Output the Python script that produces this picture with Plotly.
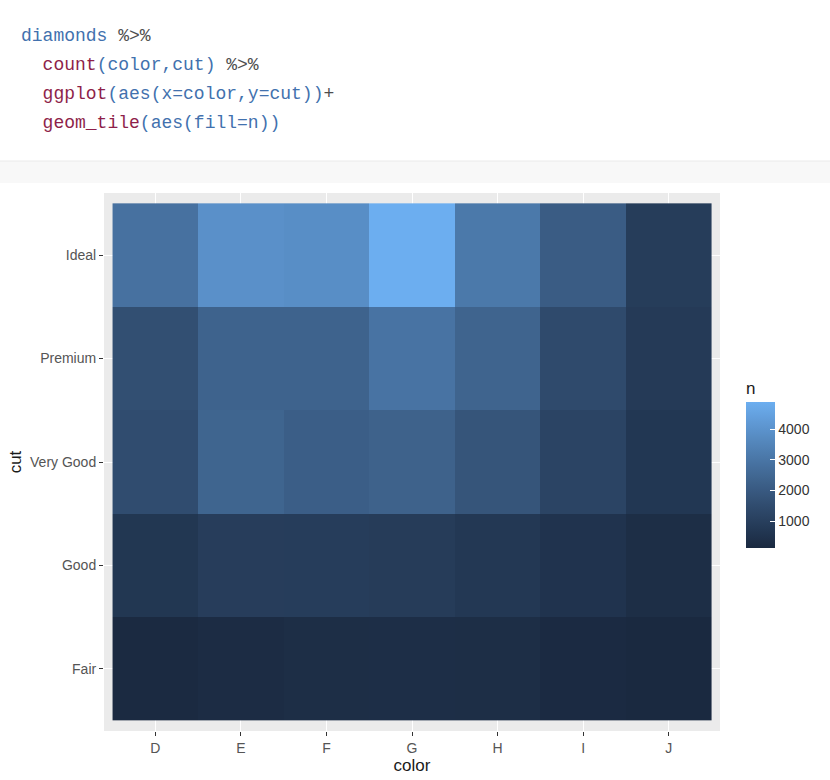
import plotly.graph_objects as go

# ---- data ----
colors = ["D", "E", "F", "G", "H", "I", "J"]
cuts = ["Fair", "Good", "Very Good", "Premium", "Ideal"]
n_fair = [163, 224, 312, 314, 303, 175, 119]
n_good = [662, 933, 909, 871, 702, 522, 307]
n_very_good = [1513, 2400, 2164, 2299, 1824, 1204, 678]
n_premium = [1603, 2337, 2331, 2924, 2360, 1428, 808]
n_ideal = [2834, 3903, 3826, 4884, 3115, 2093, 896]
cbar_ticks = [1000, 2000, 3000, 4000]

z = [n_fair, n_good, n_very_good, n_premium, n_ideal]

# ---- ggplot-like Lab gradient (colours as they appear in the screenshot) ----
def hex2rgb(h):
    h = h.lstrip("#")
    return [int(h[i:i + 2], 16) / 255 for i in (0, 2, 4)]

def srgb2lin(c):
    return c / 12.92 if c <= 0.04045 else ((c + 0.055) / 1.055) ** 2.4

def lin2srgb(c):
    c = max(0.0, min(1.0, c))
    return 12.92 * c if c <= 0.0031308 else 1.055 * c ** (1 / 2.4) - 0.055

WX, WY, WZ = 0.95047, 1.0, 1.08883

def f(t):
    return t ** (1 / 3) if t > 216 / 24389 else (24389 / 27 * t + 16) / 116

def finv(t):
    return t ** 3 if t ** 3 > 216 / 24389 else (116 * t - 16) / (24389 / 27)

def rgb2lab(rgb):
    r, g, b = [srgb2lin(c) for c in rgb]
    X = 0.4124 * r + 0.3576 * g + 0.1805 * b
    Y = 0.2126 * r + 0.7152 * g + 0.0722 * b
    Z = 0.0193 * r + 0.1192 * g + 0.9505 * b
    fx, fy, fz = f(X / WX), f(Y / WY), f(Z / WZ)
    return [116 * fy - 16, 500 * (fx - fy), 200 * (fy - fz)]

def lab2rgb(lab):
    L, a, b = lab
    fy = (L + 16) / 116
    fx = fy + a / 500
    fz = fy - b / 200
    X, Y, Z = WX * finv(fx), WY * finv(fy), WZ * finv(fz)
    r = 3.2406 * X - 1.5372 * Y - 0.4986 * Z
    g = -0.9689 * X + 1.8758 * Y + 0.0415 * Z
    bb = 0.0557 * X - 0.2040 * Y + 1.0570 * Z
    return "rgb(%d,%d,%d)" % tuple(round(lin2srgb(c) * 255) for c in (r, g, bb))

lo, hi = rgb2lab(hex2rgb("#1A2940")), rgb2lab(hex2rgb("#6CAEF0"))
steps = 20
colorscale = [[i / steps, lab2rgb([lo[k] + (hi[k] - lo[k]) * i / steps for k in range(3)])]
              for i in range(steps + 1)]

W, H = 830, 780

def px(x):
    return x / W

def py(y):
    return (H - y) / H

SANS = "Liberation Sans, Arial, sans-serif"

fig = go.Figure()
fig.add_trace(go.Heatmap(
    x=colors, y=cuts, z=z,
    colorscale=colorscale,
    colorbar=dict(
        title=dict(text="n", side="top", font=dict(size=17, color="#1a1a1a", family=SANS)),
        thickness=29, thicknessmode="pixels",
        len=170, lenmode="pixels",
        x=px(746), xanchor="left", xpad=0,
        y=py(548), yanchor="bottom", ypad=0,
        outlinewidth=0,
        tickvals=cbar_ticks,
        tickprefix="\u00a0",
        ticks="inside", ticklen=5, tickcolor="white", tickwidth=1,
        tickfont=dict(size=14, color="#333333", family=SANS),
    ),
))

axis_font = dict(size=14, color="#555555", family=SANS)
fig.update_layout(
    width=W, height=H,
    margin=dict(l=0, r=0, t=0, b=0),
    paper_bgcolor="white",
    plot_bgcolor="#EBEBEB",
    xaxis=dict(
        domain=[px(104), px(720)],
        range=[-0.6, 6.6],
        type="category",
        showgrid=True, gridcolor="white", gridwidth=1.1,
        zeroline=False, showline=False,
        ticks="outside", ticklen=4, tickcolor="#333333", tickwidth=1,
        tickfont=axis_font,
        title=dict(text="color", font=dict(size=17, color="#1a1a1a", family=SANS), standoff=4),
        fixedrange=True,
    ),
    yaxis=dict(
        domain=[py(731), py(193)],
        range=[-0.6, 4.6],
        type="category",
        showgrid=True, gridcolor="white", gridwidth=1.1,
        zeroline=False, showline=False,
        ticks="outside", ticklen=4, tickcolor="#333333", tickwidth=1,
        tickfont=axis_font,
        title=dict(text="cut", font=dict(size=17, color="#1a1a1a", family=SANS), standoff=4),
        fixedrange=True,
    ),
    showlegend=False,
)

# notebook chrome: output band
fig.add_shape(type="rect", xref="paper", yref="paper",
              x0=0, x1=1, y0=py(183), y1=py(161),
              fillcolor="#F8F8F8", line=dict(width=0), layer="below")
fig.add_shape(type="line", xref="paper", yref="paper",
              x0=0, x1=1, y0=py(161), y1=py(161),
              line=dict(color="#EAEAEA", width=1), layer="below")

# code lines
BLUE = "#4271AE"
MAROON = "#8E1F4A"
GRAY = "#4D4D4D"
code_lines = [
    f"<span style='color:{BLUE}'>diamonds</span> <span style='color:{GRAY}'>%&gt;%</span>",
    f"  <span style='color:{MAROON}'>count</span><span style='color:{BLUE}'>(color,cut)</span> <span style='color:{GRAY}'>%&gt;%</span>",
    f"  <span style='color:{MAROON}'>ggplot</span><span style='color:{BLUE}'>(aes(x=color,y=cut))</span><span style='color:{GRAY}'>+</span>",
    f"  <span style='color:{MAROON}'>geom_tile</span><span style='color:{BLUE}'>(aes(fill=n))</span>",
]
code_y = [36, 65, 94, 123]
for txt, yy in zip(code_lines, code_y):
    fig.add_annotation(
        text=txt.replace("  ", "&nbsp;&nbsp;"), xref="paper", yref="paper",
        x=px(19), y=py(yy), xanchor="left", yanchor="middle",
        showarrow=False, align="left",
        font=dict(size=18, family="Liberation Mono, DejaVu Sans Mono, monospace", color=BLUE),
    )

fig.write_html("out.html",
               config={"displayModeBar": False},
               post_script="document.body.style.margin='0';document.body.style.padding='0';")
